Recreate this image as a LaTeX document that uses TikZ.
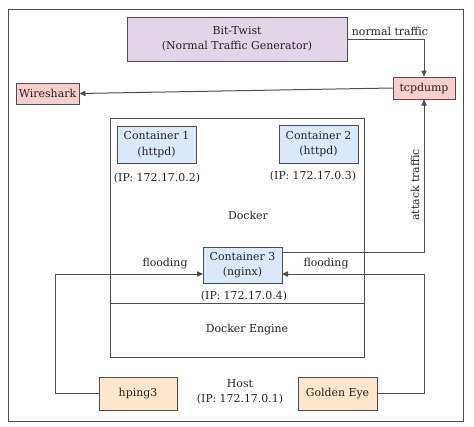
\documentclass[tikz,border=0pt]{standalone}
\usepackage{fontspec}
\setmainfont{DejaVu Serif}
\usetikzlibrary{arrows.meta,calc}
\definecolor{bordc}{HTML}{4D4D4D}
\definecolor{txtc}{HTML}{222222}
\definecolor{purp}{HTML}{E1D5E7}
\definecolor{pinkc}{HTML}{F8CECC}
\definecolor{bluec}{HTML}{DAE8FC}
\definecolor{orangec}{HTML}{FFE6CC}
\tikzset{
  box/.style={draw=bordc, line width=0.75pt, rectangle, align=center, inner sep=0pt, text=txtc,
    font=\fontsize{8.2}{11.5}\selectfont},
  lbl/.style={align=center, inner sep=0pt, text=txtc, font=\fontsize{8.2}{11.5}\selectfont},
  arr/.style={draw=bordc, line width=0.75pt, -{Triangle[length=4.5pt,width=4pt]}},
  ln/.style={draw=bordc, line width=0.75pt},
}
\begin{document}
\begin{tikzpicture}[x=0.75pt,y=-0.75pt]
\useasboundingbox (0,0) rectangle (474,426);
% outer frame
\node[box, minimum width=455*0.75pt, minimum height=412*0.75pt] (host) at (235.5,215) {};
% docker
\node[box, minimum width=254*0.75pt, minimum height=185*0.75pt] (docker) at (237,210.5) {};
\node[box, minimum width=254*0.75pt, minimum height=54*0.75pt] (engine) at (237,330) {};
\node[lbl] (dockerl) at (248,215) {Docker};
\node[lbl] (enginel) at (247,330) {Docker Engine};
% top
\node[box, fill=purp, minimum width=220*0.75pt, minimum height=44*0.75pt] (bit) at (237,39) {Bit-Twist\\(Normal Traffic Generator)};
\node[box, fill=pinkc, minimum width=62*0.75pt, minimum height=22*0.75pt] (tcp) at (424,88) {tcpdump};
\node[box, fill=pinkc, minimum width=63*0.75pt, minimum height=21*0.75pt] (wire) at (47.5,93.5) {Wireshark};
% containers
\node[box, fill=bluec, minimum width=79*0.75pt, minimum height=37*0.75pt] (c1) at (156.5,144.5) {Container 1\\(httpd)};
\node[box, fill=bluec, minimum width=79*0.75pt, minimum height=38*0.75pt] (c2) at (318.5,144) {Container 2\\(httpd)};
\node[box, fill=bluec, minimum width=79*0.75pt, minimum height=36*0.75pt] (c3) at (242.5,265) {Container 3\\(nginx)};
\node[lbl] (ip1) at (157,178) {(IP: 172.17.0.2)};
\node[lbl] (ip2) at (313,176) {(IP: 172.17.0.3)};
\node[lbl] (ip3) at (244,296) {(IP: 172.17.0.4)};
% host tools
\node[box, fill=orangec, minimum width=78*0.75pt, minimum height=33*0.75pt] (hp) at (138,393.5) {hping3};
\node[box, fill=orangec, minimum width=79*0.75pt, minimum height=33*0.75pt] (ge) at (337.5,393.5) {Golden Eye};
\node[lbl] (hostl) at (240,392) {Host\\(IP: 172.17.0.1)};
% labels
\node[lbl] (ntl) at (390,31) {normal traffic};
\node[lbl, rotate=90] (atl) at (415,185) {attack traffic};
\node[lbl] (fl1) at (165,264) {flooding};
\node[lbl] (fl2) at (326,264) {flooding};
% connectors
\draw[arr] (bit.east) -| (tcp.north);
\draw[arr] (tcp.west) -- (wire.east);
\coordinate (c3out) at (282,252);
\draw[arr] (c3out) -| (tcp.south);
\coordinate (hl) at (55,274);
\coordinate (c3w) at (203,274);
\draw[arr] (hp.west) -| (hl) -- (c3w);
\coordinate (gr) at (424,274);
\coordinate (c3e) at (282,274);
\draw[arr] (ge.east) -| (gr) -- (c3e);
\end{tikzpicture}
\end{document}
